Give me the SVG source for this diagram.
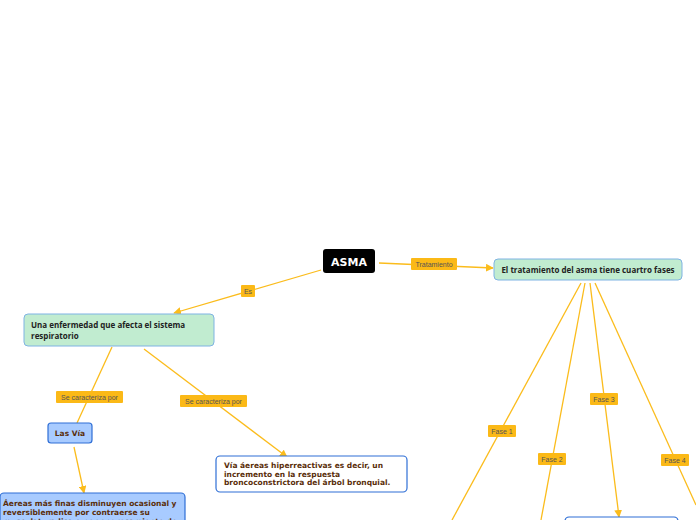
<svg xmlns="http://www.w3.org/2000/svg" width="696" height="520" viewBox="0 0 696 520">
<style>
.e{stroke:#fbbc1c;stroke-width:1.3;fill:none}
.lb{fill:#fbb917}
.lt{font:7px "Liberation Sans",sans-serif;fill:#555;text-anchor:middle}
.g{fill:#c1ecd0;stroke:#7fb3e3;stroke-width:1}
.b{fill:#a8cbff;stroke:#2f6fd6;stroke-width:1.2}
.w{fill:#fff;stroke:#2f6fd6;stroke-width:1.2}
.t{font:bold 8px "Open Sans","DejaVu Sans",sans-serif;fill:#222}
.tb{font:bold 7.5px "DejaVu Sans",sans-serif;fill:#5a2e0a}
</style>
<defs><marker id="a" viewBox="0 0 10 10" refX="9" refY="5" markerWidth="6" markerHeight="6" orient="auto"><path d="M0,0L10,5L0,10z" fill="#fbbc1c"/></marker></defs>
<rect width="696" height="520" fill="#fff"/>
<g id="connectors">
<path class="e" d="M321,270L174,313" marker-end="url(#a)"/>
<path class="e" d="M379,263L493,268" marker-end="url(#a)"/>
<path class="e" d="M112,347L77,423"/>
<path class="e" d="M144,349L287,457" marker-end="url(#a)"/>
<path class="e" d="M74,447L84,493" marker-end="url(#a)"/>
<path class="e" d="M581,283L452,520"/>
<path class="e" d="M585,283L541,520"/>
<path class="e" d="M590,283L619,517" marker-end="url(#a)"/>
<path class="e" d="M595,283L696,505"/>
<rect class="lb" x="241" y="285" width="14" height="12" rx="1"/><text class="lt" x="248" y="294">Es</text>
<rect class="lb" x="411" y="258" width="46" height="12" rx="1"/><text class="lt" x="434" y="267">Tratamiento</text>
<rect class="lb" x="56" y="391" width="67" height="12" rx="1"/><text class="lt" x="89.5" y="400">Se caracteriza por</text>
<rect class="lb" x="180" y="395" width="67" height="12" rx="1"/><text class="lt" x="213.5" y="404">Se caracteriza por</text>
<rect class="lb" x="488" y="425" width="28" height="12" rx="1"/><text class="lt" x="502" y="434">Fase 1</text>
<rect class="lb" x="538" y="453" width="28" height="12" rx="1"/><text class="lt" x="552" y="462">Fase 2</text>
<rect class="lb" x="590" y="393" width="28" height="12" rx="1"/><text class="lt" x="604" y="402">Fase 3</text>
<rect class="lb" x="661" y="454" width="28" height="12" rx="1"/><text class="lt" x="675" y="463">Fase 4</text>
</g>
<g id="asma"><rect x="323" y="249" width="52" height="24" rx="3" fill="#000"/><text x="349" y="266" text-anchor="middle" style="font:bold 11px 'DejaVu Sans',sans-serif;fill:#fff">ASMA</text></g>
<g id="tratamiento"><rect class="g" x="494" y="259" width="188" height="21" rx="4"/><text class="t" x="588" y="273" text-anchor="middle">El tratamiento del asma tiene cuartro fases</text></g>
<g id="enfermedad"><rect class="g" x="24" y="314" width="190" height="32" rx="4"/><text class="t" x="31" y="328">Una enfermedad que afecta el sistema</text><text class="t" x="31" y="339">respiratorio</text></g>
<g id="lasvia"><rect class="b" x="48" y="423" width="44" height="20" rx="3"/><text class="tb" x="70" y="436" text-anchor="middle">Las Vía</text></g>
<g id="hiper"><rect class="w" x="216" y="456" width="191" height="36" rx="4"/><text class="tb" x="224" y="468">Vía áereas hiperreactivas es decir, un</text><text class="tb" x="224" y="477">incremento en la respuesta</text><text class="tb" x="224" y="485">broncoconstrictora del árbol bronquial.</text></g>
<g id="areas"><rect class="b" x="0" y="493" width="185" height="40" rx="4"/><text class="tb" x="3" y="506">Áereas más finas disminuyen ocasional y</text><text class="tb" x="3" y="515">reversiblemente por contraerse su</text><text class="tb" x="3" y="524">musculatura lisa o por engrosamiento de</text></g>
<g id="fase3"><rect class="w" x="565" y="517" width="113" height="20" rx="4" stroke="#7fb3e3"/></g>
</svg>
